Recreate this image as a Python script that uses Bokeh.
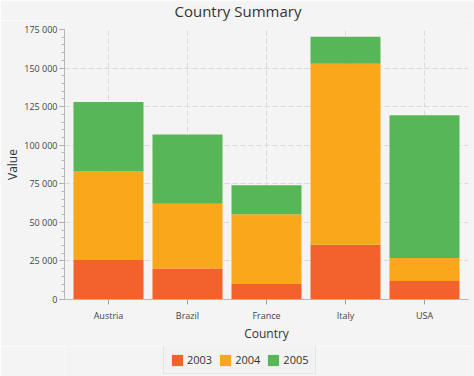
from bokeh.plotting import figure
from bokeh.models import FactorRange, Range1d, FixedTicker, CustomJSTickFormatter, Legend
from bokeh.layouts import column
from bokeh.embed import file_html
from bokeh.resources import INLINE

countries = ["Austria", "Brazil", "France", "Italy", "USA"]
years = ["2003", "2004", "2005"]
v2003 = [25601.34, 20148.82, 10000, 35407.15, 12000]
v2004 = [57401.85, 41941.19, 45263.37, 117320.16, 14845.27]
v2005 = [45000.65, 44835.76, 18722.18, 17557.31, 92633.68]
colors = ["#f3622d", "#fba71b", "#57b757"]
y_ticks = [0, 25000, 50000, 75000, 100000, 125000, 150000, 175000]
y_minor = list(range(0, 175001, 5000))

FONT = "Open Sans"
BG = "#f4f4f4"

data = {"country": countries, "2003": v2003, "2004": v2004, "2005": v2005}


def strip(h):
    f = figure(width=474, height=h, x_range=Range1d(0, 1), y_range=Range1d(0, 1),
               x_axis_type=None, y_axis_type=None,
               output_backend="svg", toolbar_location=None,
               min_border=0, min_border_left=0, min_border_right=0,
               min_border_top=0, min_border_bottom=0)
    f.background_fill_color = BG
    f.border_fill_color = BG
    f.outline_line_color = None
    f.grid.visible = False
    return f


# title strip
pt = strip(20)
pt.title.text = "Country Summary"
pt.title.text_font = FONT
pt.title.text_font_size = "15px"
pt.title.text_font_style = "normal"
pt.title.text_color = "#333333"
pt.title.align = "left"
pt.title.offset = 110
pt.title.standoff = 0

p = figure(
    width=474, height=326,
    x_range=FactorRange(factors=countries, range_padding=0.0228),
    y_range=Range1d(0, 175000),
    output_backend="svg", toolbar_location=None,
    min_border_left=64, min_border_right=6, min_border_top=9, min_border_bottom=47,
)
p.background_fill_color = BG
p.border_fill_color = BG
p.outline_line_color = None

r = p.vbar_stack(years, x="country", width=0.886, color=colors, source=data,
                 line_color=None)

p.yaxis.ticker = FixedTicker(ticks=y_ticks, minor_ticks=y_minor)
p.yaxis.formatter = CustomJSTickFormatter(code="""
return Math.round(tick).toString().replace(/\\B(?=(\\d{3})+(?!\\d))/g, " ");
""")
for ax in (p.xaxis, p.yaxis):
    ax.major_label_text_font = FONT
    ax.major_label_text_font_size = "9px"
    ax.major_label_text_color = "#444444"
    ax.axis_label_text_font = FONT
    ax.axis_label_text_font_size = "12px"
    ax.axis_label_text_font_style = "normal"
    ax.axis_label_text_color = "#333333"
    ax.axis_line_color = "#b8b8b8"
    ax.major_tick_line_color = "#a0a0a0"
    ax.minor_tick_line_color = "#b8b8b8"
    ax.major_tick_out = 5
    ax.major_tick_in = 0
    ax.minor_tick_out = 3
    ax.minor_tick_in = 0
p.xaxis.axis_label = "Country"
p.yaxis.axis_label = "Value"
p.xaxis.major_label_standoff = 4
p.xaxis.axis_label_standoff = 0
p.yaxis.major_label_standoff = 2
p.yaxis.axis_label_standoff = 0

for g in (p.xgrid, p.ygrid):
    g.grid_line_color = "#d9d9d9"
    g.grid_line_dash = "5 3"
    g.grid_line_width = 1

# legend strip below the chart
p2 = strip(30)
handles = [p2.vbar(x=[0], top=[0], bottom=[0], width=0, color=c, line_color=None)
           for c in colors]

legend = Legend(items=[(y, [rr]) for y, rr in zip(years, handles)],
                orientation="horizontal", location=(99, 2))
legend.label_text_font = FONT
legend.label_text_font_size = "11px"
legend.label_text_color = "#333333"
legend.glyph_width = 14
legend.glyph_height = 14
legend.label_standoff = 3
legend.spacing = 6
legend.padding = 6
legend.margin = 0
legend.border_line_color = "#d6d6d6"
legend.background_fill_color = "#f1f1f1"
legend.label_height = 14
p2.add_layout(legend, "center")

layout = column(pt, p, p2, spacing=0)
open("out.html", "w").write(file_html(layout, INLINE))
